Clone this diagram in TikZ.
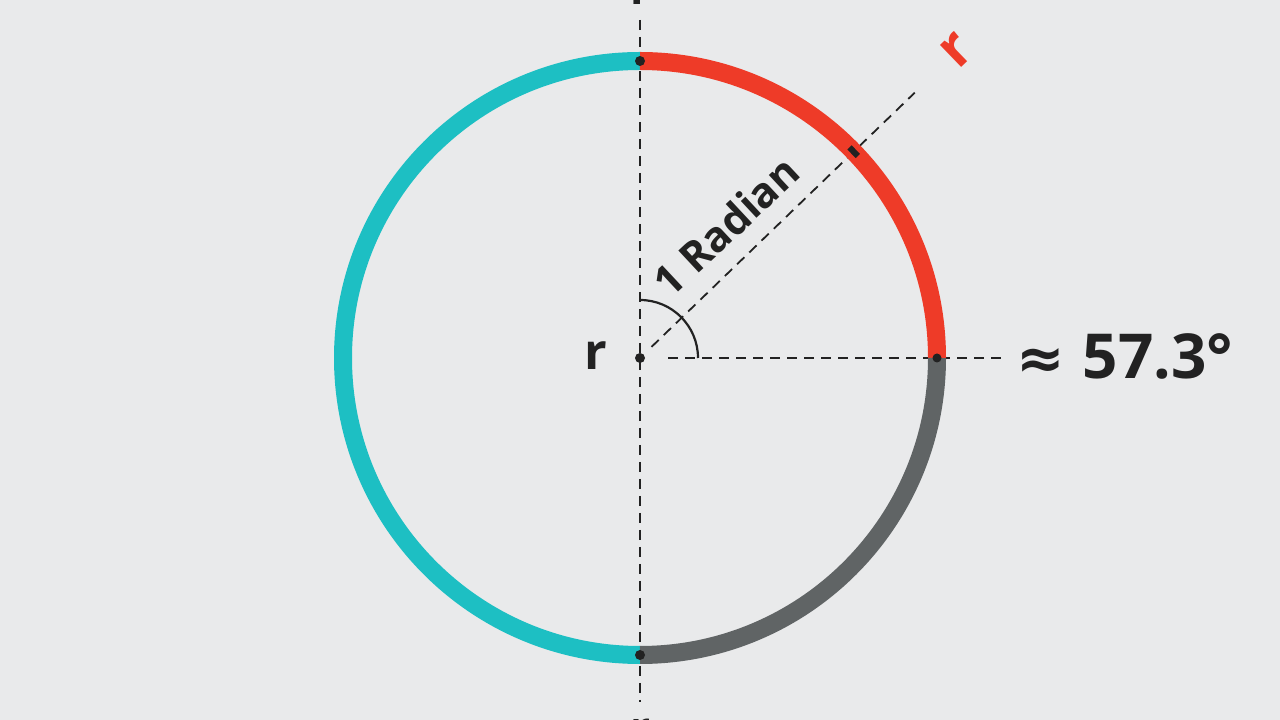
\documentclass[tikz,border=0pt]{standalone}
\usepackage{fontspec}
\setmainfont{Open Sans}
\newfontfamily\symfont{DejaVu Sans}
\usetikzlibrary{calc}
\definecolor{bg}{HTML}{E9EAEB}
\definecolor{arccyan}{HTML}{1DBFC3}
\definecolor{arcred}{HTML}{EE3B28}
\definecolor{arcgray}{HTML}{606465}
\definecolor{ink}{HTML}{222222}
\tikzset{
  guide/.style={draw=ink, line width=1.8pt, dash pattern=on 10pt off 7pt},
  ring/.style={line width=18pt, line cap=butt},
  pt/.style={circle, fill=ink, inner sep=0pt, minimum size=10pt},
  lbl/.style={font=\bfseries, text=ink, inner sep=0pt},
}
\begin{document}
\begin{tikzpicture}[x=1pt,y=1pt]
\useasboundingbox (0,0) rectangle (1280,720);
\fill[bg] (0,0) rectangle (1280,720);
\clip (0,0) rectangle (1280,720);
\coordinate (O) at (640,362);
\coordinate (T) at (640,659);
\coordinate (B) at (640,65);
\coordinate (R) at (937,362);
\coordinate (M) at ($(O)+(44:297)$);
\coordinate (vtop) at (640,700);
\coordinate (vbot) at (640,18);
\coordinate (rad0) at ($(O)+(44:16)$);
\coordinate (rad1) at ($(O)+(44:382)$);
\coordinate (h0) at (668,362);
\coordinate (h1) at (1003,362);
% guides
\draw[guide] (vtop) -- (vbot);
\draw[guide] (rad0) -- (rad1);
\draw[guide] (h0) -- (h1);
% ring
\draw[ring, arccyan] (T) arc[start angle=90, end angle=270, radius=297];
\draw[ring, arcred] (T) arc[start angle=90, end angle=0, radius=297];
\draw[ring, arcgray] (R) arc[start angle=0, end angle=-90, radius=297];
% angle mark
\coordinate (a0) at ($(O)+(90:58)$);
\draw[ink, line width=2.2pt] (a0) arc[start angle=90, end angle=0, radius=58];
% points
\node[pt] (po) at (O) {};
\node[pt] (pt) at (T) {};
\node[pt] (pb) at (B) {};
\node[pt, minimum size=9pt] (pr) at (R) {};
\node[fill=ink, minimum width=12pt, minimum height=6pt, inner sep=0pt, rotate=44-90] (pm) at (M) {};
% labels
\node[lbl, font=\bfseries\fontsize{50}{50}\selectfont, anchor=base] (rc) at (596,350) {r};
\node[lbl, font=\bfseries\fontsize{42}{42}\selectfont, rotate=43] (rl) at (726,494) {1 Radian};
\node[lbl, font=\bfseries\fontsize{56}{56}\selectfont, text=arcred, rotate=44] (rr) at (957,670) {r};
\node[lbl, font=\bfseries\fontsize{62}{62}\selectfont, anchor=west] (deg) at (1016,364) {{\symfont\bfseries\fontsize{58}{58}\selectfont ≈}\kern18pt 57.3°};
\node[lbl, font=\bfseries\fontsize{44}{44}\selectfont, anchor=base] (rtop) at (640,715) {r};
\node[lbl, font=\bfseries\fontsize{44}{44}\selectfont, anchor=north] (rbot) at (640,1) {r};
\end{tikzpicture}
\end{document}
